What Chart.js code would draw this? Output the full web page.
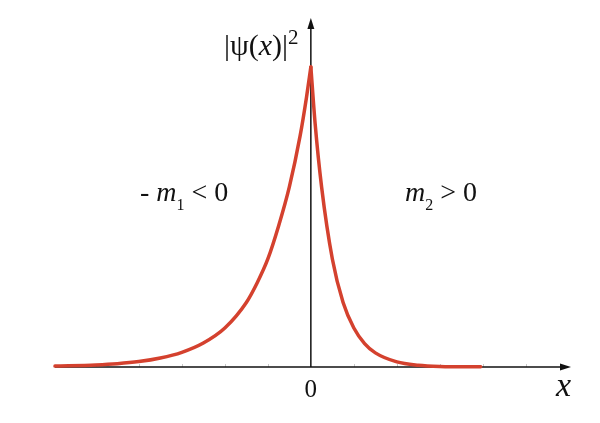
<!DOCTYPE html>
<html>
<head>
<meta charset="utf-8">
<script src="https://cdn.jsdelivr.net/npm/chart.js@4"></script>
<style>
  html, body { margin: 0; padding: 0; background: #fff; }
</style>
</head>
<body>
<canvas id="wavechart" width="600" height="423"></canvas>
<script>
// |psi(x)|^2, peak normalised to 1
// left side (m1 < 0), slow decay
const leftX = [-5.95, -5, -4.5, -4, -3.5, -3, -2.5, -2, -1.5, -1.25, -1, -0.75, -0.5, -0.25, -0.1, 0];
const leftY = [0.003, 0.007, 0.011, 0.018, 0.03, 0.049, 0.08, 0.13, 0.215, 0.28, 0.36, 0.47, 0.6, 0.77, 0.9, 1.0];
// right side (m2 > 0), fast decay
const rightX = [0, 0.1, 0.25, 0.5, 0.75, 1, 1.25, 1.5, 2, 2.5, 3, 3.95];
const rightY = [1.0, 0.81, 0.6, 0.36, 0.215, 0.13, 0.078, 0.047, 0.017, 0.006, 0.002, 0.0005];
// faint tick marks along the x axis
const xTicks = [-5, -4, -3, -2, -1, 1, 2, 3, 4, 5];

const canvas = document.getElementById('wavechart');
const serif = '"Liberation Serif", "Times New Roman", serif';
const curveColor = '#d4412e';

// draw a row of text pieces with their own fonts / offsets
function drawRuns(ctx, x, y, runs) {
  let cx = x;
  runs.forEach(r => {
    ctx.font = r.font;
    ctx.fillText(r.t, cx, y + (r.dy || 0));
    cx += ctx.measureText(r.t).width;
  });
}

// axes with arrow heads, drawn under the curve
const axesPlugin = {
  id: 'axes',
  beforeDatasetsDraw(chart) {
    const ctx = chart.ctx;
    const xs = chart.scales.x;
    const ys = chart.scales.y;
    const area = chart.chartArea;
    const x0 = xs.getPixelForValue(0);
    const y0 = ys.getPixelForValue(0);
    ctx.save();

    // faint ticks
    ctx.strokeStyle = '#c8c8c8';
    ctx.lineWidth = 1;
    xTicks.forEach(t => {
      const px = Math.round(xs.getPixelForValue(t)) + 0.5;
      ctx.beginPath();
      ctx.moveTo(px, y0 - 3);
      ctx.lineTo(px, y0);
      ctx.stroke();
    });

    ctx.strokeStyle = '#111';
    ctx.fillStyle = '#111';
    ctx.lineWidth = 1.5;
    // x axis
    ctx.beginPath();
    ctx.moveTo(area.left, y0);
    ctx.lineTo(area.right - 6, y0);
    ctx.stroke();
    ctx.beginPath();
    ctx.moveTo(area.right, y0);
    ctx.lineTo(area.right - 11, y0 - 3.5);
    ctx.lineTo(area.right - 11, y0 + 3.5);
    ctx.closePath();
    ctx.fill();
    // y axis
    ctx.beginPath();
    ctx.moveTo(x0, y0);
    ctx.lineTo(x0, area.top + 6);
    ctx.stroke();
    ctx.beginPath();
    ctx.moveTo(x0, area.top);
    ctx.lineTo(x0 - 3.5, area.top + 11);
    ctx.lineTo(x0 + 3.5, area.top + 11);
    ctx.closePath();
    ctx.fill();
    ctx.restore();
  },
  afterDraw(chart) {
    const ctx = chart.ctx;
    const x0 = chart.scales.x.getPixelForValue(0);
    const y0 = chart.scales.y.getPixelForValue(0);
    ctx.save();
    ctx.fillStyle = '#111';
    ctx.textBaseline = 'alphabetic';

    // y label |psi(x)|^2
    drawRuns(ctx, 224, 55, [
      { t: '|\u03C8(', font: '30px ' + serif },
      { t: 'x', font: 'italic 30px ' + serif },
      { t: ')|', font: '30px ' + serif },
      { t: '2', font: '21px ' + serif, dy: -11 }
    ]);

    // tick label 0
    ctx.font = '25px ' + serif;
    ctx.textAlign = 'center';
    ctx.fillText('0', x0, y0 + 30);
    ctx.textAlign = 'left';

    // x label
    ctx.font = 'italic 34px ' + serif;
    ctx.fillText('x', 556, y0 + 29);

    // region labels
    drawRuns(ctx, 140, 201, [
      { t: '- ', font: '28px ' + serif },
      { t: 'm', font: 'italic 28px ' + serif },
      { t: '1', font: '16px ' + serif, dy: 9 },
      { t: ' < 0', font: '28px ' + serif }
    ]);
    drawRuns(ctx, 405, 201, [
      { t: 'm', font: 'italic 28px ' + serif },
      { t: '2', font: '16px ' + serif, dy: 9 },
      { t: ' > 0', font: '28px ' + serif }
    ]);
    ctx.restore();
  }
};

const toPoints = (xs, ys) => xs.map((x, i) => ({ x: x, y: ys[i] }));

const lineStyle = {
  borderColor: curveColor,
  borderWidth: 3.5,
  borderCapStyle: 'round',
  borderJoinStyle: 'round',
  pointRadius: 0,
  cubicInterpolationMode: 'monotone',
  fill: false,
  clip: false
};

const waveChart = new Chart(canvas, {
  type: 'line',
  data: {
    datasets: [
      Object.assign({ label: 'left', data: toPoints(leftX, leftY) }, lineStyle),
      Object.assign({ label: 'right', data: toPoints(rightX, rightY) }, lineStyle)
    ]
  },
  options: {
    responsive: false,
    animation: false,
    layout: { padding: { left: 55, right: 29, top: 18, bottom: 56 } },
    scales: {
      x: { type: 'linear', min: -5.95, max: 6.05, display: false },
      y: { min: 0, max: 1.163, display: false }
    },
    plugins: {
      legend: { display: false },
      tooltip: { enabled: false }
    }
  },
  plugins: [axesPlugin]
});
</script>
</body>
</html>
